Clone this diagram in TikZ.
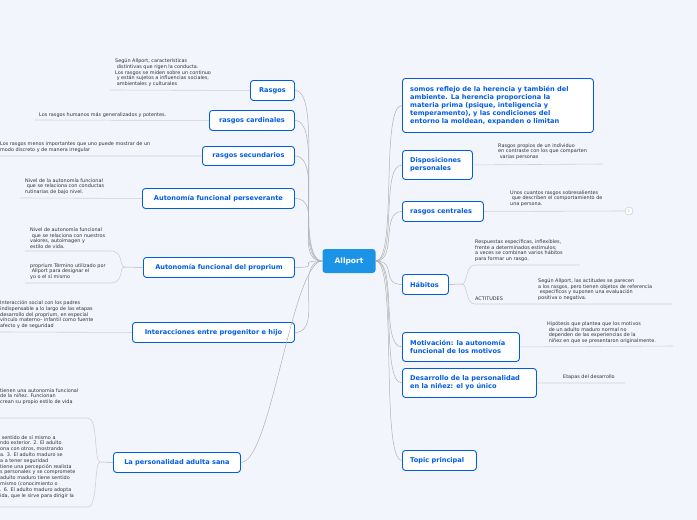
\documentclass[tikz,border=0pt]{standalone}
\usepackage{fontspec}
\setmainfont{DejaVu Sans}
\begin{document}
\begin{tikzpicture}[x=1pt,y=-1pt,
 topic/.style={draw=blue!60!cyan!90!black,line width=0.9pt,rounded corners=3pt,fill=white,font=\bfseries\fontsize{6.6}{8}\selectfont,text=blue!60!cyan!90!black,inner sep=0pt,anchor=north west,align=left},
 leaf/.style={font=\fontsize{4.9}{5.8}\selectfont,text=black!80,anchor=south west,align=left,inner sep=0pt},
 con/.style={draw=black!30,line width=0.5pt},
 ln/.style={draw=black!18,line width=0.6pt}]
\definecolor{bg}{HTML}{F2F5FC}
\definecolor{cfill}{HTML}{1B93E6}
\fill[bg] (0,0) rectangle (697,520);
\useasboundingbox (0,0) rectangle (697,520);
% center
\node[fill=cfill,rounded corners=3pt,minimum width=53,minimum height=24,text=white,font=\bfseries\fontsize{7.5}{9}\selectfont] (C) at (349,261) {Allport};
% topics
\node[topic,minimum width=44,minimum height=20] (a) at (250,80) {};
\node[topic,minimum width=85,minimum height=20] (b) at (209,110) {};
\node[topic,minimum width=92,minimum height=19] (c) at (202,146) {};
\node[topic,minimum width=152,minimum height=20] (d) at (142,188) {};
\node[topic,minimum width=151,minimum height=20] (e) at (143,257) {};
\node[topic,minimum width=162,minimum height=20] (f) at (132,322) {};
\node[topic,minimum width=127,minimum height=20] (g) at (113,452) {};
\node[topic,minimum width=191,minimum height=54] (r1) at (402,78) {};
\node[topic,minimum width=70,minimum height=29] (r2) at (402,150) {};
\node[topic,minimum width=81,minimum height=20] (r3) at (402,201) {};
\node[topic,minimum width=46,minimum height=20] (r4) at (402,274) {};
\node[topic,minimum width=117,minimum height=29] (r5) at (402,332) {};
\node[topic,minimum width=134,minimum height=29] (r6) at (402,368) {};
\node[topic,minimum width=74,minimum height=20] (r7) at (402,450) {};
\tikzset{tt/.style={font=\bfseries\fontsize{6.6}{8}\selectfont,text=blue!60!cyan!90!black,align=left,inner sep=0pt}}
\node[tt] at (a.center) {Rasgos};
\node[tt] at (b.center) {rasgos cardinales};
\node[tt] at (c.center) {rasgos secundarios};
\node[tt] at (d.center) {Autonomía funcional perseverante};
\node[tt] at (e.center) {Autonomía funcional del proprium};
\node[tt] at (f.center) {Interacciones entre progenitor e hijo};
\node[tt] at (g.center) {La personalidad adulta sana};
\node[tt,anchor=west] at ([xshift=8]r1.west) {somos reflejo de la herencia y también del\\ambiente. La herencia proporciona la\\materia prima (psique, inteligencia y\\temperamento), y las condiciones del\\entorno la moldean, expanden o limitan};
\node[tt,anchor=west] at ([xshift=8]r2.west) {Disposiciones\\personales};
\node[tt,anchor=west] at ([xshift=8]r3.west) {rasgos centrales};
\node[tt,anchor=west] at ([xshift=8]r4.west) {Hábitos};
\node[tt,anchor=west] at ([xshift=8]r5.west) {Motivación: la autonomía\\funcional de los motivos};
\node[tt,anchor=west] at ([xshift=8]r6.west) {Desarrollo de la personalidad\\en la niñez: el yo único};
\node[tt,anchor=west] at ([xshift=8]r7.west) {Topic principal};
% connectors
\foreach \n in {a,b,c,d,e,f,g}{\draw[con] (C.west) .. controls +(-30,0) and +(30,0) .. (\n.east);}
\foreach \n in {r1,r2,r3,r4,r5,r6,r7}{\draw[con] (C.east) .. controls +(22,0) and +(-22,0) .. (\n.west);}
% left leaves
\draw[ln] (a.west) -- (110,90);
\node[leaf] at (115,87) {Según Allport, características\\ \ distintivas que rigen la conducta.\\Los rasgos se miden sobre un continuo\\ \ y están sujetos a influencias sociales,\\ \ ambientales y culturales};
\draw[ln] (b.west) -- (35,120);
\node[leaf] at (39,118) {Los rasgos humanos más generalizados y potentes.};
\draw[ln] (c.west) -- (0,156);
\node[leaf] at (0,153) {Los rasgos menos importantes que uno puede mostrar de un\\modo discreto y de manera irregular};
\draw[ln] (d.west) -- (20,198);
\node[leaf] at (25,195) {Nivel de la autonomía funcional\\ \ que se relaciona con conductas\\rutinarias de bajo nivel.};
\coordinate (eb) at (125,267);
\draw[con] (e.west) -- (eb);
\draw[ln] (eb) .. controls (118,267) and (125,251) .. (110,251) -- (25,251);
\draw[ln] (eb) .. controls (118,267) and (125,283) .. (110,283) -- (25,283);
\node[leaf] at (30,249) {Nivel de autonomía funcional\\ \ que se relaciona con nuestros\\valores, autoimagen y\\estilo de vida.};
\node[leaf] at (30,280) {proprium Término utilizado por\\ \ Allport para designar el\\yo o el sí mismo};
\draw[ln] (f.west) -- (0,332);
\node[leaf] at (0,329) {Interacción social con los padres\\indispensable a lo largo de las etapas\\desarrollo del proprium, en especial\\vínculo materno– infantil como fuente\\afecto y de seguridad};
\coordinate (gb) at (100,462);
\draw[con] (g.west) -- (gb);
\draw[ln] (gb) .. controls (94,462) and (98,418) .. (88,418) -- (0,418);
\draw[ln] (gb) .. controls (94,462) and (98,507) .. (88,507) -- (0,507);
\node[leaf] at (0,405) {tienen una autonomía funcional\\de la niñez. Funcionan\\crean su propio estilo de vida};
\node[leaf] at (0,503) {\ sentido de sí mismo a\\ndo exterior. 2. El adulto\\ona con otros, mostrando\\a. 3. El adulto maduro se\\a a tener seguridad\\ tiene una percepción realista\\s personales y se compromete\\adulto maduro tiene sentido\\mismo (conocimiento o\\. 6. El adulto maduro adopta\\ida, que le sirve para dirigir la\\};
% right leaves
\draw[ln] (r2.east) -- (603,164);
\node[leaf] at (498,160) {Rasgos propios de un individuo\\en contraste con los que comparten\\ \ varias personas};
\draw[ln] (r3.east) -- (625,211);
\draw[black!18,fill=white,line width=0.6pt] (629,211) circle (4);
\node[font=\fontsize{3.5}{4}\selectfont,text=black!30] at (629,211) {1};
\node[leaf] at (510,207) {Unos cuantos rasgos sobresalientes\\ \ que describen el comportamiento de\\una persona.};
\coordinate (hb) at (462,284);
\draw[con] (r4.east) -- (hb);
\draw[ln] (hb) .. controls (468,284) and (465,265) .. (475,265) -- (580,265);
\draw[ln] (hb) .. controls (468,284) and (465,304) .. (475,304) -- (672,304);
\node[leaf] at (475,262) {Respuestas específicas, inflexibles,\\frente a determinados estímulos;\\a veces se combinan varios hábitos\\para formar un rasgo.};
\node[leaf] at (475,301) {ACTITUDES};
\node[leaf] at (538,301) {Según Allport, las actitudes se parecen\\a los rasgos, pero tienen objetos de referencia\\ \ específicos y suponen una evaluación\\positiva o negativa.};
\draw[ln] (r5.east) -- (673,346);
\node[leaf] at (547,344) {Hipótesis que plantea que los motivos\\ \ de un adulto maduro normal no\\ \ dependen de las experiencias de la\\ \ niñez en que se presentaron originalmente.};
\draw[ln] (r6.east) -- (625,383);
\node[leaf] at (563,380) {Etapas del desarrollo};
\end{tikzpicture}
\end{document}
